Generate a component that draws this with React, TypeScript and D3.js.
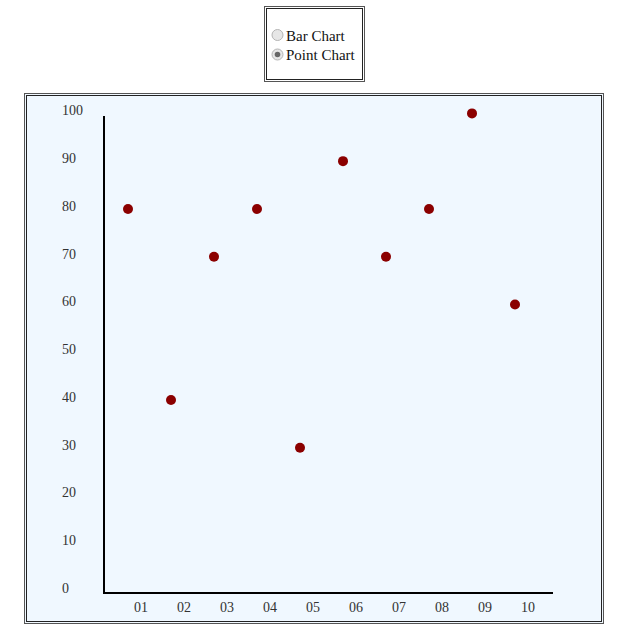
import { useState } from "react";
import * as d3 from "d3";

const categories = ["01", "02", "03", "04", "05", "06", "07", "08", "09", "10"];
const values = [80, 40, 70, 80, 30, 90, 70, 80, 100, 60];
const yTicks = [0, 10, 20, 30, 40, 50, 60, 70, 80, 90, 100];
const chartModes = ["Bar Chart", "Point Chart"];

const W = 627;
const H = 640;
const plotLeft = 104;
const plotRight = 553;
const plotTop = 116;
const plotBottom = 593;

function DoubleBox({ x, y, w, h }: { x: number; y: number; w: number; h: number }) {
  return (
    <g fill="none">
      <rect x={x + 0.5} y={y + 0.5} width={w - 1} height={h - 1} stroke="#555" strokeWidth={1} />
      <rect x={x + 2.5} y={y + 2.5} width={w - 5} height={h - 5} stroke="#222" strokeWidth={1} />
    </g>
  );
}

export default function App() {
  const [mode, setMode] = useState("Point Chart");

  const x = d3.scalePoint<string>().domain(categories).range([plotLeft + 24, plotLeft + 411]);
  const y = d3.scaleLinear().domain([0, 100]).range([plotBottom - 2, plotTop - 2.6]);
  const data = categories.map((c, i) => ({ cat: c, value: values[i] }));

  return (
    <svg
      width={W}
      height={H}
      viewBox={`0 0 ${W} ${H}`}
      style={{ position: "absolute", left: 0, top: 0, fontFamily: "'Liberation Serif', 'Times New Roman', serif" }}
    >
      <rect width={W} height={H} fill="#fff" />

      {/* mode switch */}
      <DoubleBox x={264} y={6} w={101} h={76} />
      {chartModes.map((m, i) => {
        const cy = 35 + i * 19.5;
        const on = mode === m;
        return (
          <g key={m} style={{ cursor: "pointer" }} onClick={() => setMode(m)}>
            <circle cx={277.5} cy={cy} r={5.5} fill="#e6e6e6" stroke="#b4b4b4" strokeWidth={1} />
            {on && <circle cx={277.5} cy={cy} r={2.8} fill="#666" />}
            <text x={286} y={cy + 5.5} fontSize={15} fill="#111">
              {m}
            </text>
          </g>
        );
      })}

      {/* chart panel */}
      <rect x={24} y={93} width={580} height={531} fill="#f0f8ff" />
      <DoubleBox x={24} y={93} w={580} h={531} />

      {yTicks.map((t) => (
        <text key={t} x={62} y={y(t) + 2} fontSize={14} fill="#333">
          {t}
        </text>
      ))}
      {categories.map((c) => (
        <text key={c} x={(x(c) ?? 0) + 13} y={612} fontSize={14} fill="#333" textAnchor="middle">
          {c}
        </text>
      ))}

      {mode === "Point Chart"
        ? data.map((d) => <circle key={d.cat} cx={x(d.cat)} cy={y(d.value)} r={5} fill="#8b0000" />)
        : data.map((d) => (
            <rect
              key={d.cat}
              x={(x(d.cat) ?? 0) - 15}
              y={y(d.value)}
              width={30}
              height={plotBottom - y(d.value)}
              fill="#8b0000"
            />
          ))}

      <line x1={plotLeft} x2={plotLeft} y1={plotTop} y2={plotBottom + 1} stroke="#000" strokeWidth={2} />
      <line x1={plotLeft - 1} x2={plotRight} y1={plotBottom} y2={plotBottom} stroke="#000" strokeWidth={2} />
    </svg>
  );
}
